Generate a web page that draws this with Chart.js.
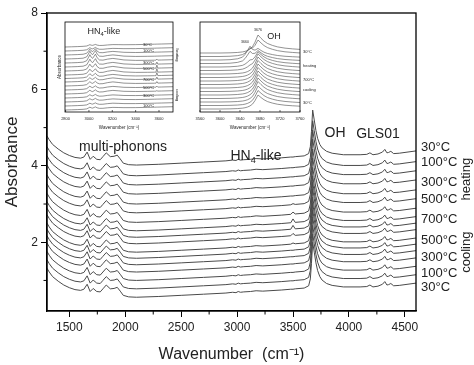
<!DOCTYPE html>
<html>
<head>
<meta charset="utf-8">
<script src="https://cdn.jsdelivr.net/npm/chart.js@4"></script>
<style>
  body { margin: 0; background: #fff; }
  #wrap { position: relative; width: 474px; height: 365px; }
  canvas { position: absolute; }
</style>
</head>
<body>
<div id="wrap">
  <canvas id="main" width="474" height="365" style="left:0;top:0"></canvas>
  <canvas id="insetHN" width="150" height="122" style="left:40px;top:14px"></canvas>
  <canvas id="insetOH" width="135" height="122" style="left:190px;top:14px"></canvas>
</div>
<script>
// ---- main spectra: shape of the top (30°C) curve, the others are shifted copies
const wavenumbers = [1300,1320,1350,1400,1450,1500,1550,1600,1630,1659,
  1686,1713,1745,1776,1800,1830,1866,1900,1928,1955,
  1982,2030,2100,2300,2500,2700,2900,2960,2990,3010,
  3030,3060,3120,3170,3230,3400,3480,3500,3520,3600,
  3640,3655,3665,3676,3690,3705,3720,3740,3760,3800,
  3850,3950,4100,4160,4188,4215,4260,4300,4321,4340,
  4355,4375,4400,4450,4600];
const topSpectrum = [4.78,4.68,4.56,4.44,4.34,4.27,4.22,4.20,4.23,4.36,
  4.17,4.25,4.17,4.16,4.24,4.34,4.24,4.25,4.28,4.18,
  4.07,4.03,4.02,4.04,4.07,4.10,4.13,4.15,4.14,4.17,
  4.15,4.16,4.17,4.19,4.18,4.21,4.23,4.23,4.24,4.26,
  4.32,4.50,4.90,5.46,5.20,4.92,4.72,4.56,4.47,4.38,
  4.33,4.29,4.29,4.30,4.34,4.29,4.31,4.36,4.43,4.34,
  4.35,4.38,4.32,4.33,4.39];
// absorbance of each spectrum at 4600 cm-1, top to bottom
const curveEnds = [4.39,4.11,3.87,3.63,3.37,3.14,2.89,2.67,2.50,2.33,2.11,1.95,1.78,1.59,1.37,1.15,0.93];
const curveNames = ['30°C','100°C','200°C','300°C','400°C','500°C','600°C','700°C','700°C',
  '600°C','500°C','400°C','350°C','300°C','200°C','100°C','30°C'];
const spike3500 = [0,0,0,0,0,0.03,0.06,0.1,0.1,0.06,0.03,0,0,0,0,0,0];
const sideLabels = ['30°C','100°C','300°C','500°C','700°C','500°C','300°C','100°C','30°C'];
const sideLabelY = [4.49,4.08,3.56,3.11,2.59,2.04,1.60,1.18,0.81];
const xTicks = [1500,2000,2500,3000,3500,4000,4500];
const xMinorTicks = [1750,2250,2750,3250,3750,4250];
const yTicks = [2,4,6,8];
const yMinorTicks = [1,3,5,7];

// ---- inset HN4-like (units are arbitrary)
const hnWn = [2795,2850,2900,2950,2980,2995,3008,3020,3032,3045,
  3056,3070,3090,3120,3160,3205,3250,3300,3400,3500,
  3560,3574,3582,3590,3620,3720];
const hnSlope = [0,0.2,0.4,0.6,0.7,0.75,0.8,0.85,0.9,0.95,
  1.0,1.05,1.1,1.2,1.4,1.6,1.8,2.0,2.3,2.6,
  2.8,2.85,2.9,2.9,3.0,3.3];
const hnDoublet = [0,0,0,0.03,0.2,0.6,1,0.65,0.5,0.8,
  1.05,0.55,0.2,0.08,0.03,0,0,0,0,0,
  0,0,0,0,0,0];
const hnBroad = [0,0,0,0,0,0,0,0,0,0,
  0,0.05,0.15,0.35,0.75,1,0.7,0.35,0.1,0.03,
  0,0,0,0,0,0];
const hnSharp = [0,0,0,0,0,0,0,0,0,0,
  0,0,0,0,0,0,0,0,0,0,
  0,0,1,0,0,0];
const hnOffset = [65,61,57,53,49,45,41,37,33.5,30,26,22,18,14,10,6,2];
const hnDoubletAmp = [1.5,2.5,5,7,7.5,7,6,5,4,3.5,3.5,3,3,2.5,2.5,2,2];
const hnBroadAmp = [0.8,1,2,2.5,3,3,3,3,2.5,2.5,2.5,2,2,1.5,1.5,1.2,1];
const hnSharpAmp = [0,0,0,0,1,2,3,3.5,3,2,1.5,1,0.5,0,0,0,0];
const hnTicks = [2800,3000,3200,3400,3600];
const hnLabels = ['30°C','100°C','300°C','500°C','700°C','500°C','300°C','100°C'];
const hnLabelY = [67,61,49,43,32,24,16,6];

// ---- inset OH
const ohWn = [3560,3600,3620,3635,3645,3650,3655,3660,3665,3670,3676,3682,3688,3695,3705,3715,3730,3745,3760];
const oh3676 = [0,0,0.01,0.03,0.06,0.09,0.14,0.22,0.35,0.6,1,0.82,0.66,0.53,0.42,0.34,0.27,0.23,0.2];
const oh3660 = [0,0,0.02,0.08,0.2,0.4,0.7,1,0.65,0.42,0.3,0.25,0.21,0.19,0.17,0.15,0.13,0.12,0.11];
const ohOffset = [59,55.5,52,48.5,45,41.5,38,34.5,31,27.5,24,20.5,17,13.5,10,6.5,3];
const amp3676 = [18,15,8,10,14,16,17,17,17,17,17,17,17,17,16,15,14];
const amp3660 = [0,5,12,10,4,2,0,0,0,0,0,0,0,0,0,0,0];
const ohTicks = [3560,3600,3640,3680,3720,3760];
const ohLabels = ['30°C','heating','700°C','cooling','30°C'];
const ohLabelY = [60,46,32,22,9];

const FONT = "'Liberation Sans', Arial, Helvetica, sans-serif";
Chart.defaults.font.family = FONT;
Chart.defaults.color = '#222';

function text(ctx, s, px, py, size, align, rot) {
  ctx.save();
  ctx.translate(px, py);
  if (rot) ctx.rotate(rot);
  ctx.font = size + 'px ' + FONT;
  ctx.textAlign = align || 'center';
  ctx.textBaseline = 'middle';
  ctx.fillStyle = '#222';
  ctx.fillText(s, 0, 0);
  ctx.restore();
}

function subText(ctx, a, sub, b, px, py, size) {
  ctx.save();
  ctx.textBaseline = 'middle';
  ctx.textAlign = 'left';
  ctx.fillStyle = '#222';
  ctx.font = size + 'px ' + FONT;
  const w1 = ctx.measureText(a).width, w3 = ctx.measureText(b).width;
  ctx.font = (size * 0.65) + 'px ' + FONT;
  const w2 = ctx.measureText(sub).width;
  const x0 = px - (w1 + w2 + w3) / 2;
  ctx.font = size + 'px ' + FONT;
  ctx.fillText(a, x0, py);
  ctx.fillText(b, x0 + w1 + w2, py);
  ctx.font = (size * 0.65) + 'px ' + FONT;
  ctx.fillText(sub, x0 + w1, py + size * 0.3);
  ctx.restore();
}

function frame(ctx, a, lw) {
  ctx.save();
  ctx.strokeStyle = '#000';
  ctx.lineWidth = lw;
  ctx.strokeRect(a.left, a.top, a.right - a.left, a.bottom - a.top);
  ctx.restore();
}

function lineSet(label, data, width) {
  return { label, data, borderColor: '#4a4a4a', borderWidth: width, pointRadius: 0, tension: 0, fill: false };
}

// ---------------- main chart
const mainSets = curveEnds.map((end, i) => lineSet(curveNames[i],
  wavenumbers.map((w, j) => ({ x: w, y: topSpectrum[j] - (curveEnds[0] - end) + (w === 3500 ? spike3500[i] : 0) })), 1));

const mainDecor = {
  id: 'mainDecor',
  afterDraw(chart) {
    const { ctx, chartArea: a, scales: { x, y } } = chart;
    frame(ctx, a, 1.3);
    ctx.save();
    ctx.strokeStyle = '#000';
    ctx.lineWidth = 1;
    ctx.beginPath();
    xMinorTicks.forEach(v => { const px = x.getPixelForValue(v); ctx.moveTo(px, a.bottom); ctx.lineTo(px, a.bottom + 3.5); });
    yMinorTicks.forEach(v => { const py = y.getPixelForValue(v); ctx.moveTo(a.left, py); ctx.lineTo(a.left - 3.5, py); });
    ctx.stroke();
    ctx.restore();

    text(ctx, 'multi-phonons', x.getPixelForValue(1980), y.getPixelForValue(4.48), 14);
    subText(ctx, 'HN', '4', '-like', x.getPixelForValue(3169), y.getPixelForValue(4.25), 14);
    text(ctx, 'OH', x.getPixelForValue(3876), y.getPixelForValue(4.86), 14);
    text(ctx, 'GLS01', x.getPixelForValue(4260), y.getPixelForValue(4.83), 14);
    sideLabels.forEach((s, i) => text(ctx, s, a.right + 5, y.getPixelForValue(sideLabelY[i]), 13, 'left'));
    text(ctx, 'heating', a.right + 50, y.getPixelForValue(3.65), 13, 'center', -Math.PI / 2);
    text(ctx, 'cooling', a.right + 50, y.getPixelForValue(1.74), 13, 'center', -Math.PI / 2);
  }
};

new Chart(document.getElementById('main'), {
  type: 'line',
  data: { datasets: mainSets },
  options: {
    responsive: false,
    animation: false,
    layout: { padding: { top: 13, right: 58, left: 0, bottom: 0 } },
    plugins: { legend: { display: false }, tooltip: { enabled: false } },
    scales: {
      x: {
        type: 'linear', min: 1300, max: 4600,
        afterBuildTicks: s => { s.ticks = xTicks.map(v => ({ value: v })); },
        afterFit: s => { s.height = 54; },
        ticks: { callback: v => String(v), font: { size: 12 }, padding: 3, maxRotation: 0, autoSkip: false },
        grid: { drawOnChartArea: false, tickLength: 6, color: '#000', tickColor: '#000', lineWidth: 1 },
        border: { display: true, color: '#000', width: 1.3 },
        title: { display: true, text: 'Wavenumber  (cm⁻¹)', font: { size: 16 }, padding: { top: 0, bottom: 1 } }
      },
      y: {
        min: 0.2, max: 8,
        afterBuildTicks: s => { s.ticks = yTicks.map(v => ({ value: v })); },
        afterFit: s => { s.width = 47; },
        ticks: { callback: v => String(v), font: { size: 12 }, padding: 3 },
        grid: { drawOnChartArea: false, tickLength: 6, color: '#000', tickColor: '#000', lineWidth: 1 },
        border: { display: true, color: '#000', width: 1.3 },
        title: { display: true, text: 'Absorbance', font: { size: 17 }, padding: { top: 2, bottom: 0 } }
      }
    }
  },
  plugins: [mainDecor]
});

// ---------------- inset HN4-like
const hnSets = hnOffset.map((off, i) => lineSet(curveNames[i],
  hnWn.map((w, j) => ({ x: w, y: off + hnSlope[j] + hnDoubletAmp[i] * hnDoublet[j] + hnBroadAmp[i] * hnBroad[j] + hnSharpAmp[i] * hnSharp[j] })), 0.6));

function insetTicks(ctx, a, xs, vals) {
  ctx.save();
  ctx.strokeStyle = '#000';
  ctx.lineWidth = 0.6;
  ctx.beginPath();
  vals.forEach(v => { const px = xs.getPixelForValue(v); ctx.moveTo(px, a.bottom); ctx.lineTo(px, a.bottom - 2); });
  ctx.stroke();
  ctx.restore();
}

const hnDecor = {
  id: 'hnDecor',
  afterDraw(chart) {
    const { ctx, chartArea: a, scales: { x, y } } = chart;
    frame(ctx, a, 0.8);
    insetTicks(ctx, a, x, hnTicks);
    subText(ctx, 'HN', '4', '-like', x.getPixelForValue(3129), y.getPixelForValue(80), 9);
    hnLabels.forEach((s, i) => text(ctx, s, x.getPixelForValue(3463), y.getPixelForValue(hnLabelY[i]), 4, 'left'));
    text(ctx, 'heating', a.right + 4, y.getPixelForValue(57), 4, 'center', Math.PI / 2);
    text(ctx, 'cooling', a.right + 4, y.getPixelForValue(17), 4, 'center', Math.PI / 2);
  }
};

function insetOptions(xmin, xmax, ticks, yWidth, rightPad, yTitle) {
  return {
    responsive: false,
    animation: false,
    layout: { padding: { top: 8, right: rightPad, left: 0, bottom: 0 } },
    plugins: { legend: { display: false }, tooltip: { enabled: false } },
    scales: {
      x: {
        type: 'linear', min: xmin, max: xmax,
        afterBuildTicks: s => { s.ticks = ticks.map(v => ({ value: v })); },
        afterFit: s => { s.height = 24; },
        ticks: { callback: v => String(v), font: { size: 4 }, padding: 4, maxRotation: 0, autoSkip: false },
        grid: { display: false, drawTicks: false },
        border: { display: false },
        title: { display: true, text: 'Wavenumber (cm⁻¹)', font: { size: 4.5 }, padding: { top: 0, bottom: 5.3 } }
      },
      y: {
        min: 0, max: 90,
        afterFit: s => { s.width = yWidth; },
        ticks: { display: false },
        grid: { display: false, drawTicks: false },
        border: { display: false },
        title: { display: !!yTitle, text: yTitle || '', font: { size: 4.5 }, padding: { top: 17.3, bottom: 0 } }
      }
    }
  };
}

new Chart(document.getElementById('insetHN'), {
  type: 'line',
  data: { datasets: hnSets },
  options: insetOptions(2795, 3720, hnTicks, 25, 17, 'Absorbance'),
  plugins: [hnDecor]
});

// ---------------- inset OH
const ohSets = ohOffset.map((off, i) => lineSet(curveNames[i],
  ohWn.map((w, j) => ({ x: w, y: off + amp3676[i] * oh3676[j] + amp3660[i] * oh3660[j] })), 0.6));

const ohDecor = {
  id: 'ohDecor',
  afterDraw(chart) {
    const { ctx, chartArea: a, scales: { x, y } } = chart;
    frame(ctx, a, 0.8);
    insetTicks(ctx, a, x, ohTicks);
    text(ctx, 'OH', x.getPixelForValue(3708), y.getPixelForValue(75), 9);
    text(ctx, '3676', x.getPixelForValue(3676), y.getPixelForValue(82), 3.5);
    text(ctx, '3660', x.getPixelForValue(3650), y.getPixelForValue(70), 3.5);
    ohLabels.forEach((s, i) => text(ctx, s, a.right + 3, y.getPixelForValue(ohLabelY[i]), 4, 'left'));
  }
};

new Chart(document.getElementById('insetOH'), {
  type: 'line',
  data: { datasets: ohSets },
  options: insetOptions(3560, 3760, ohTicks, 10, 25, ''),
  plugins: [ohDecor]
});
</script>
</body>
</html>
